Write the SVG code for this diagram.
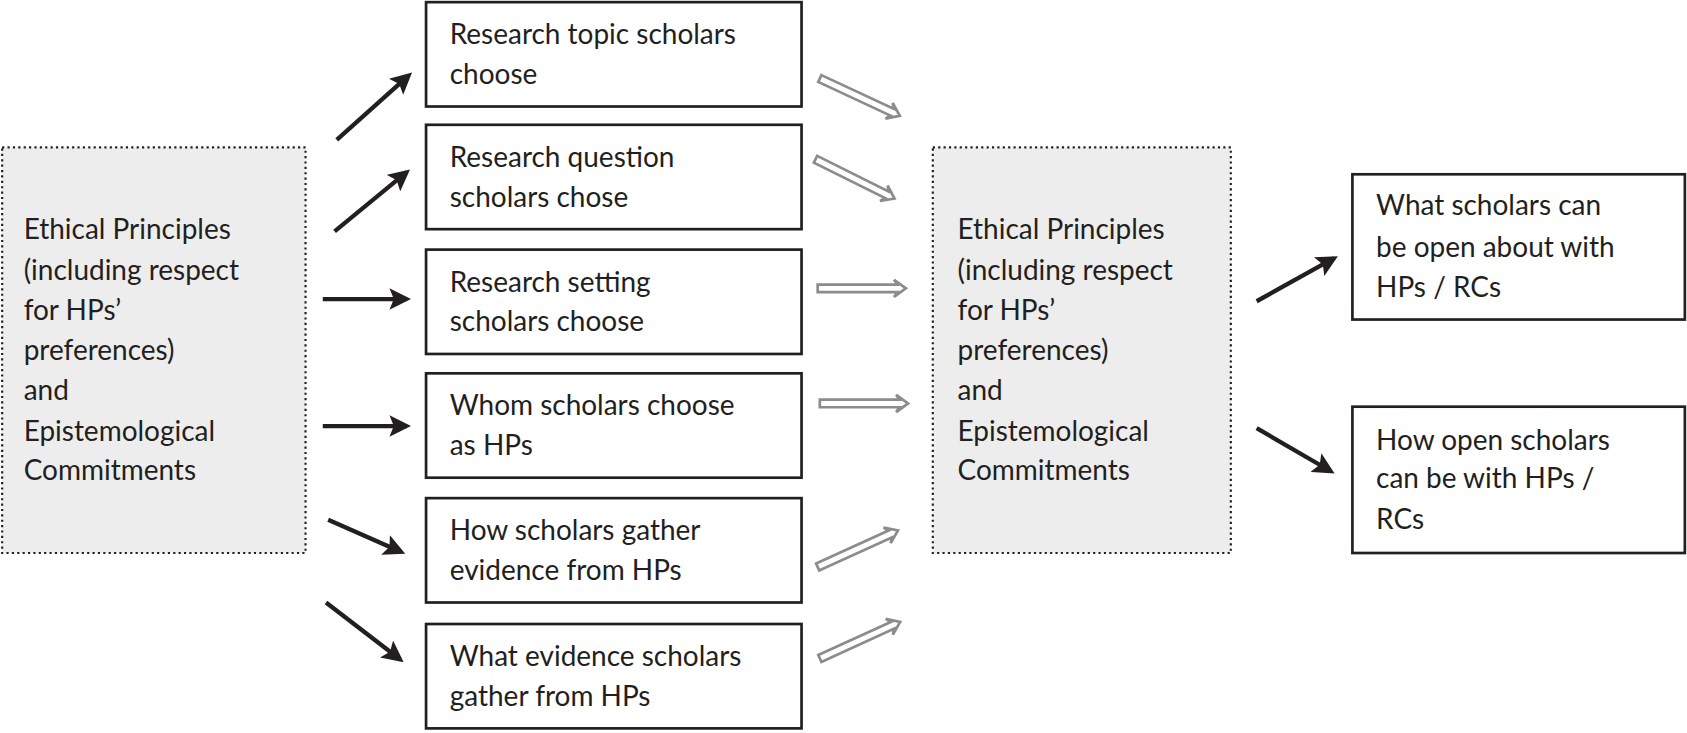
<svg xmlns="http://www.w3.org/2000/svg" width="1687" height="733" viewBox="0 0 1687 733">
<style>
text{font-family:Lato,"Open Sans","Liberation Sans",sans-serif;font-size:26px;fill:#231f20}
.b{fill:#fff;stroke:#231f20;stroke-width:2.5}
.d{fill:#ededed;stroke:#231f20;stroke-width:2;stroke-dasharray:2 3}
.a{stroke:#231f20;stroke-width:4;marker-end:url(#m)}
.h{fill:#fff;stroke:#8c8c8c;stroke-width:2.5}
</style>
<defs>
<marker id="m" viewBox="0 0 10 10" refX="8" refY="5" markerWidth="5" markerHeight="5" orient="auto" markerUnits="strokeWidth"><path d="M0,0 L10,5 L0,10 L2,5 Z" fill="#231f20"/></marker>
<polygon id="ha" points="0,-3.5 74,-3.5 71,-8 82,0 71,8 74,3.5 0,3.5"/>
</defs>
<g transform="scale(1.0759)">
<g id="left"><rect class="d" x="2" y="137" width="282" height="377"/>
<text><tspan x="22" y="222">Ethical Principles</tspan><tspan x="22" y="260">(including respect</tspan><tspan x="22" y="297">for HPs’</tspan><tspan x="22" y="335">preferences)</tspan><tspan x="22" y="372">and</tspan><tspan x="22" y="410">Epistemological</tspan><tspan x="22" y="446">Commitments</tspan></text></g>
<g id="n1"><rect class="b" x="396" y="2" width="349" height="97"/><text><tspan x="418" y="41">Research topic scholars</tspan><tspan x="418" y="78">choose</tspan></text></g>
<g id="n2"><rect class="b" x="396" y="116" width="349" height="97"/><text><tspan x="418" y="155">Research question</tspan><tspan x="418" y="192">scholars chose</tspan></text></g>
<g id="n3"><rect class="b" x="396" y="232" width="349" height="97"/><text><tspan x="418" y="271">Research setting</tspan><tspan x="418" y="308">scholars choose</tspan></text></g>
<g id="n4"><rect class="b" x="396" y="347" width="349" height="97"/><text><tspan x="418" y="386">Whom scholars choose</tspan><tspan x="418" y="423">as HPs</tspan></text></g>
<g id="n5"><rect class="b" x="396" y="463" width="349" height="97"/><text><tspan x="418" y="502">How scholars gather</tspan><tspan x="418" y="539">evidence from HPs</tspan></text></g>
<g id="n6"><rect class="b" x="396" y="580" width="349" height="97"/><text><tspan x="418" y="619">What evidence scholars</tspan><tspan x="418" y="656">gather from HPs</tspan></text></g>
<g id="center"><rect class="d" x="867" y="137" width="277" height="377"/>
<text><tspan x="890" y="222">Ethical Principles</tspan><tspan x="890" y="260">(including respect</tspan><tspan x="890" y="297">for HPs’</tspan><tspan x="890" y="335">preferences)</tspan><tspan x="890" y="372">and</tspan><tspan x="890" y="410">Epistemological</tspan><tspan x="890" y="446">Commitments</tspan></text></g>
<g id="r1"><rect class="b" x="1257" y="162" width="309" height="135"/><text><tspan x="1279" y="200">What scholars can</tspan><tspan x="1279" y="239">be open about with</tspan><tspan x="1279" y="276">HPs / RCs</tspan></text></g>
<g id="r2"><rect class="b" x="1257" y="378" width="309" height="136"/><text><tspan x="1279" y="418">How open scholars</tspan><tspan x="1279" y="454">can be with HPs /</tspan><tspan x="1279" y="492">RCs</tspan></text></g>
<g id="connectors">
<line class="a" x1="313" y1="130" x2="380" y2="70"/>
<line class="a" x1="311" y1="215" x2="378" y2="160"/>
<line class="a" x1="300" y1="278" x2="378" y2="278"/>
<line class="a" x1="300" y1="396" x2="378" y2="396"/>
<line class="a" x1="305" y1="483" x2="373" y2="513"/>
<line class="a" x1="303" y1="560" x2="372" y2="613"/>
<line class="a" x1="1168" y1="280" x2="1240" y2="240"/>
<line class="a" x1="1168" y1="398" x2="1237" y2="438"/>
<use href="#ha" class="h" transform="translate(762,73) rotate(25)"/>
<use href="#ha" class="h" transform="translate(758,148) rotate(26.5)"/>
<use href="#ha" class="h" transform="translate(760,268)"/>
<use href="#ha" class="h" transform="translate(762,375)"/>
<use href="#ha" class="h" transform="translate(760,527) rotate(-24.5)"/>
<use href="#ha" class="h" transform="translate(762,612) rotate(-24.5)"/>
</g>
</g>
</svg>
